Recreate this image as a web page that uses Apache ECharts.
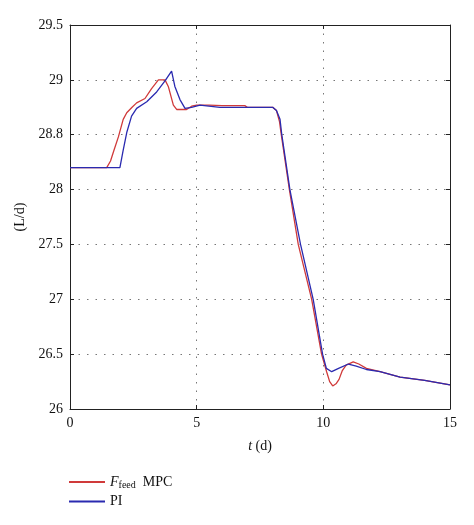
<!DOCTYPE html>
<html><head><meta charset="utf-8">
<script src="https://cdn.jsdelivr.net/npm/echarts@6/dist/echarts.min.js"></script>
<style>html,body{margin:0;padding:0;background:#fff}#c{width:474px;height:525px}</style>
</head><body><div id="c"></div>
<script>
// Data
const mpcT = [0, 1.45, 1.6, 1.71, 1.91, 2.1, 2.24, 2.45, 2.63, 2.96, 3.22, 3.49, 3.75, 3.88, 4.08, 4.21, 4.6, 4.8, 5.0, 5.5, 6.0, 6.9, 7.0, 8.0, 8.15, 8.27, 8.34, 8.66, 9.01, 9.54, 9.93, 10.13, 10.25, 10.37, 10.5, 10.62, 10.75, 10.9, 11.18, 11.4, 11.7, 12.24, 13.03, 14, 15];
const mpcV = [28.2, 28.2, 28.26, 28.34, 28.48, 28.64, 28.70, 28.75, 28.79, 28.83, 28.92, 29.0, 29.0, 28.94, 28.77, 28.73, 28.73, 28.76, 28.77, 28.77, 28.765, 28.765, 28.75, 28.75, 28.72, 28.62, 28.5, 28.0, 27.5, 27.0, 26.5, 26.34, 26.25, 26.21, 26.23, 26.27, 26.35, 26.40, 26.43, 26.41, 26.37, 26.34, 26.29, 26.26, 26.22];
const piT = [0, 1.97, 2.1, 2.24, 2.43, 2.63, 3.03, 3.42, 3.75, 4.01, 4.14, 4.34, 4.54, 4.8, 5.13, 5.92, 7, 8.0, 8.15, 8.29, 8.36, 8.68, 9.1, 9.6, 9.97, 10.12, 10.33, 10.6, 10.99, 11.3, 11.7, 12.24, 13.03, 14, 15];
const piV = [28.2, 28.2, 28.36, 28.52, 28.67, 28.74, 28.80, 28.89, 28.99, 29.08, 28.94, 28.82, 28.74, 28.75, 28.77, 28.75, 28.75, 28.75, 28.72, 28.64, 28.5, 28.0, 27.5, 27.0, 26.5, 26.37, 26.34, 26.37, 26.41, 26.39, 26.36, 26.34, 26.29, 26.26, 26.22];
const yTickValues = [26, 26.5, 27, 27.5, 28, 28.5, 29, 29.5];
const yTickLabels = ['26', '26.5', '27', '27.5', '28', '28.8', '29', '29.5'];
const xTickLabels = ['0', '5', '10', '15'];
const seriesNames = ['Ffeed MPC', 'PI'];

const zip = (a, b) => a.map((x, i) => [x, b[i]]);
const font = 'Liberation Serif';
const grid = {left: 70, right: 24, top: 25, bottom: 116};
const dotted = {show: true, lineStyle: {color: '#777', type: [1.5, 7], width: 1}};

const chart = echarts.init(document.getElementById('c'), null, {renderer: 'canvas'});
chart.setOption({
  animation: false,
  backgroundColor: '#fff',
  grid: grid,
  legend: {
    orient: 'vertical', left: 64, top: 470, itemGap: 4,
    itemWidth: 36, itemHeight: 2, icon: 'rect',
    data: seriesNames,
    textStyle: {fontFamily: font, fontSize: 14, color: '#111',
      rich: {i: {fontFamily: font, fontStyle: 'italic', fontSize: 14, color: '#111'},
             sub: {fontFamily: font, fontSize: 10, color: '#111', padding: [7, 0, 0, 0]},
             n: {fontFamily: font, fontSize: 14, color: '#111'}}},
    formatter: n => n === seriesNames[0] ? '{i|F}{sub|feed}{n|  MPC}' : '{n|' + n + '}'
  },
  xAxis: [{
    type: 'value', min: 0, max: 15, interval: 5,
    name: '{i|t} (d)', nameLocation: 'middle', nameGap: 30,
    nameTextStyle: {fontFamily: font, fontSize: 14, color: '#111',
      rich: {i: {fontFamily: font, fontStyle: 'italic', fontSize: 14, color: '#111'}}},
    axisLine: {show: true, onZero: false, lineStyle: {color: '#222', width: 1}},
    axisTick: {show: true, inside: true, length: 4, lineStyle: {color: '#222'}},
    axisLabel: {fontFamily: font, fontSize: 14, color: '#111', margin: 7,
      formatter: v => xTickLabels[Math.round(v / 5)]},
    splitLine: dotted
  }, {
    type: 'value', position: 'top', min: 0, max: 15, interval: 5,
    axisLine: {show: true, onZero: false, lineStyle: {color: '#222', width: 1}},
    axisTick: {show: true, inside: true, length: 4, lineStyle: {color: '#222'}},
    axisLabel: {show: false}, splitLine: {show: false}
  }],
  yAxis: [{
    type: 'value', min: 26, max: 29.5, interval: 0.5,
    name: '(L/d)', nameLocation: 'middle', nameGap: 42, nameRotate: 90,
    nameTextStyle: {fontFamily: font, fontSize: 14, color: '#111'},
    axisLine: {show: true, onZero: false, lineStyle: {color: '#222', width: 1}},
    axisTick: {show: true, inside: true, length: 4, lineStyle: {color: '#222'}},
    axisLabel: {fontFamily: font, fontSize: 14, color: '#111', margin: 7,
      formatter: v => { const i = yTickValues.findIndex(t => Math.abs(t - v) < 1e-6); return i >= 0 ? yTickLabels[i] : ''; }},
    splitLine: dotted
  }, {
    type: 'value', position: 'right', min: 26, max: 29.5, interval: 0.5,
    axisLine: {show: true, onZero: false, lineStyle: {color: '#222', width: 1}},
    axisTick: {show: true, inside: true, length: 4, lineStyle: {color: '#222'}},
    axisLabel: {show: false}, splitLine: {show: false}
  }],
  series: [{
    name: seriesNames[0], type: 'line', data: zip(mpcT, mpcV), showSymbol: false, symbol: 'none',
    lineStyle: {color: '#d03a3a', width: 1.3}, itemStyle: {color: '#d03a3a'}, z: 2
  }, {
    name: seriesNames[1], type: 'line', data: zip(piT, piV), showSymbol: false, symbol: 'none',
    lineStyle: {color: '#2a2ab0', width: 1.3}, itemStyle: {color: '#2a2ab0'}, z: 3
  }]
});
</script></body></html>
